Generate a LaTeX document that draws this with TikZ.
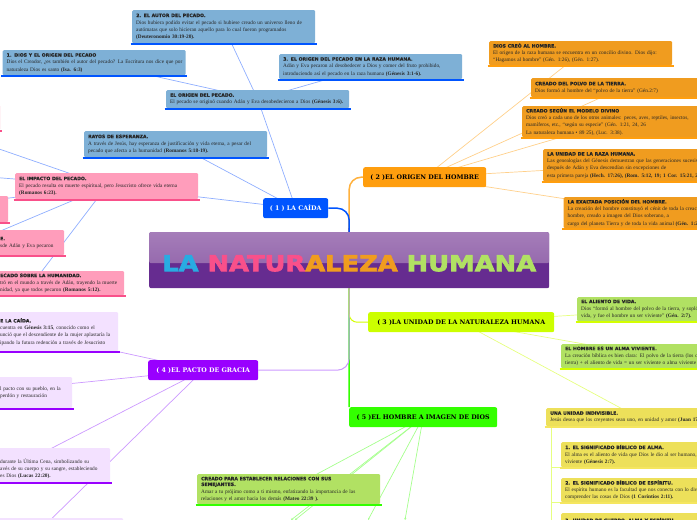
\documentclass[tikz,border=0pt]{standalone}
\usepackage{fontspec}
\usepackage{tkz-euclide}
\usetikzlibrary{backgrounds,arrows.meta}
\setmainfont{Liberation Serif}
\newfontfamily\headfont[BoldFeatures={FakeBold=0.8}]{DejaVu Sans}
\newfontfamily\ramafont{DejaVu Serif}
\newfontfamily\titlefont[BoldFeatures={FakeBold=3,FakeStretch=1.17}]{DejaVu Sans}
\definecolor{cazul}{HTML}{7EB0D6}
\definecolor{bazul}{HTML}{0055FF}
\definecolor{lazul}{HTML}{8FAEFF}
\definecolor{celeste}{HTML}{29ABE2}
\definecolor{crosa}{HTML}{FF9DBB}
\definecolor{brosa}{HTML}{F9508A}
\definecolor{cnaranja}{HTML}{F09C1F}
\definecolor{bnaranja}{HTML}{FF9E0E}
\definecolor{lnaranja}{HTML}{FFD08A}
\definecolor{clima}{HTML}{B1E163}
\definecolor{blima}{HTML}{D4FF00}
\definecolor{flima}{HTML}{CCFF00}
\definecolor{llima}{HTML}{E6FF80}
\definecolor{cverde}{HTML}{33FF00}
\definecolor{lverde}{HTML}{A5FF8C}
\definecolor{camarillo}{HTML}{EDE05A}
\definecolor{bamarillo}{HTML}{F5E65F}
\definecolor{clila}{HTML}{F3E1FF}
\definecolor{bmorado}{HTML}{9900FF}
\definecolor{lmorado}{HTML}{CC99FF}
\definecolor{oscuro}{HTML}{662C90}
\definecolor{medio}{HTML}{8A5BA5}
\definecolor{claro}{HTML}{A57DB9}
\tikzset{
    card/.style 2 args={rectangle,rounded corners=1.2pt,fill=#1,text=black!85,anchor=north west,
        text width=175pt,inner xsep=4pt,inner ysep=0pt,align=left,
        font=\fontsize{5.3}{7.2}\selectfont,
        append after command={([yshift=-1pt]\tikzlastnode.south west) edge[draw=#2,line width=2pt,rounded corners=0pt,shorten <=-1.5pt,shorten >=-1.5pt] ([yshift=-1pt]\tikzlastnode.south east)}},
    cardazul/.style={card={cazul}{bazul}},
    cardrosa/.style={card={crosa}{brosa}},
    cardnaranja/.style={card={cnaranja}{bnaranja}},
    cardlima/.style={card={clima}{blima}},
    cardverde/.style={card={clima}{cverde}},
    cardamarilla/.style={card={camarillo}{bamarillo}},
    cardlila/.style={card={clila}{bmorado}},
    rama/.style 2 args={rectangle,rounded corners=2pt,fill=#1,text=#2,anchor=north west,inner sep=0pt,align=center,
        font=\ramafont\bfseries\fontsize{6.3}{7}\selectfont},
    hilo/.style={line width=0.7pt,-{Stealth[length=2.2pt,width=2.2pt]}}
}
\newcommand{\head}[1]{{\headfont\bfseries\fontsize{4.6}{7.2}\selectfont #1}}
\begin{document}
\begin{tikzpicture}[x=1pt,y=-1pt]
                    \useasboundingbox (0,0) rectangle (697,520);
                    \tkzDefPoints{132/10/Pa,2.5/50/Pb,279/54/Pc,166/90/Pd,84/131/Pe,15/173/Pf,-175/196/Pg,-119/230/Ph,-59/271/Pi,-183/105/Pj}
                    \tkzDefPoints{-65/312/Pk,-111/377/Pl,-73/448/Pm,-60/518/Pn}
                    \tkzDefPoints{489/41/Qa,531/78/Qb,522/106/Qc,543/149/Qd,563.5/197/Qe}
                    \tkzDefPoints{577/297/Ra,561/344/Rb,546/408/Rc,561/442/Rd,561/478/Re,561/513/Rf,197/474/Rg}
                    \tkzDefPoints{-100/170/fuera,291/520/bajaa,295/520/bajab,368/520/bajac,405/520/bajad}
                    \node[cardazul,minimum height=33pt] (autor) at (Pa) {\head{2. EL AUTOR DEL PECADO.}\\Dios hubiera podido evitar el pecado si hubiese creado un universo lleno de\\autómatas que solo hicieran aquello para lo cual fueron programados\\\textbf{(Deuteronomio 30:19-20).}};
                    \node[cardazul,minimum height=25pt] (dios) at (Pb) {\head{1. DIOS Y EL ORIGEN DEL PECADO}\\\makebox[175pt][l]{Dios el Creador, ¿es también el autor del pecado? La Escritura nos dice que por}\\naturaleza Dios es santo \textbf{(Isa. 6:3)}};
                    \node[cardazul,minimum height=25pt] (raza) at (Pc) {\head{3. EL ORIGEN DEL PECADO EN LA RAZA HUMANA.}\\Adán y Eva pecaron al desobedecer a Dios y comer del fruto prohibido,\\introduciendo así el pecado en la raza humana \textbf{(Génesis 3:1-6).}};
                    \node[cardazul,minimum height=18pt] (pecado) at (Pd) {\head{EL ORIGEN DEL PECADO.}\\El pecado se originó cuando Adán y Eva desobedecieron a Dios \textbf{(Génesis 3:6).}};
                    \node[cardazul,minimum height=26pt] (rayos) at (Pe) {\head{RAYOS DE ESPERANZA.}\\A través de Jesús, hay esperanza de justificación y vida eterna, a pesar del\\pecado que afecta a la humanidad \textbf{(Romanos 5:18-19).}};
                    \node[cardrosa,minimum height=26pt] (impacto) at (Pf) {\head{EL IMPACTO DEL PECADO.}\\El pecado resulta en muerte espiritual, pero Jesucristo ofrece vida eterna\\\textbf{(Romanos 6:23).}};
                    \node[cardrosa,minimum height=26pt] (rosag) at (Pg) {};
                    \node[cardrosa,minimum height=25pt] (rosah) at (Ph) {\hspace*{115pt}\head{E.}\\\hspace*{115pt}sde Adán y Eva pecaron};
                    \node[cardrosa,minimum height=24pt] (humanidad) at (Pi) {\hspace*{55pt}\head{ECADO SOBRE LA HUMANIDAD.}\\\hspace*{55pt}tró en el mundo a través de Adán, trayendo la muerte\\\hspace*{55pt}nidad, ya que todos pecaron \textbf{(Romanos 5:12).}};
                    \node[cardrosa,minimum height=25pt] (rosaj) at (Pj) {};
                    \node[cardlila,minimum height=39pt] (caida) at (Pk) {\hspace*{61pt}\head{E LA CAÍDA.}\\\hspace*{61pt}cuentra en \textbf{Génesis 3:15}, conocido como el\\\hspace*{61pt}unció que el descendiente de la mujer aplastaría la\\\hspace*{61pt}ipando la futura redención a través de Jesucristo};
                    \node[cardlila,minimum height=31pt] (pueblo) at (Pl) {\strut\\\hspace*{107pt}l pacto con su pueblo, en la\\\hspace*{107pt}perdón y restauración\\\strut};
                    \node[cardlila,minimum height=34pt] (cena) at (Pm) {\strut\\\hspace*{69pt}durante la Última Cena, simbolizando su\\\hspace*{69pt}avés de su cuerpo y su sangre, estableciendo\\\hspace*{69pt}es Dios \textbf{(Lucas 22:20).}};
                    \node[cardlila,minimum height=40pt] (lilan) at (Pn) {};
                    \node[cardnaranja,minimum height=24pt] (creo) at (Qa) {\head{DIOS CREÓ AL HOMBRE.}\\El origen de la raza humana se encuentra en un concilio divino. Dios dijo:\\“Hagamos al hombre” (Gén. 1:26), (Gén. 1:27).};
                    \node[cardnaranja,minimum height=19pt] (polvo) at (Qb) {\head{CREADO DEL POLVO DE LA TIERRA.}\\Dios formó al hombre del “polvo de la tierra” (Gén.2:7)};
                    \node[cardnaranja,minimum height=31pt] (modelo) at (Qc) {\head{CREADO SEGÚN EL MODELO DIVINO}\\Dios creó a cada uno de los otros animales: peces, aves, reptiles, insectos,\\mamíferos, etc., “según su especie” (Gén. 1:21, 24, 26\\ La naturaleza humana • 89 25), (Luc. 3:38).};
                    \node[cardnaranja,minimum height=32pt] (linaje) at (Qd) {\head{LA UNIDAD DE LA RAZA HUMANA.}\\Las genealogías del Génesis demuestran que las generaciones sucesivas\\después de Adán y Eva descendían sin excepciones de\\esta primera pareja \textbf{(Hech. 17:26), (Rom. 5:12, 19; 1 Cor. 15:21, 22).}};
                    \node[cardnaranja,minimum height=31pt] (exaltada) at (Qe) {\head{LA EXALTADA POSICIÓN DEL HOMBRE.}\\La creación del hombre constituyó el cénit de toda la creación\\hombre, creado a imagen del Dios soberano, a\\cargo del planeta Tierra y de toda la vida animal \textbf{(Gén. 1:26).}};
                    \node[cardlima,minimum height=24pt] (aliento) at (Ra) {\head{EL ALIENTO DE VIDA.}\\Dios “formó al hombre del polvo de la tierra, y sopló\\vida, y fue el hombre un ser viviente” \textbf{(Gén. 2:7).}};
                    \node[cardlima,minimum height=24pt] (alma) at (Rb) {\head{EL HOMBRE ES UN ALMA VIVIENTE.}\\La creación bíblica es bien clara: El polvo de la tierra (los químicos de la\\tierra) + el aliento de vida = un ser viviente o alma viviente};
                    \node[cardamarilla,minimum height=18pt] (indivisible) at (Rc) {\head{UNA UNIDAD INDIVISIBLE.}\\Jesús desea que los creyentes sean uno, en unidad y amor \textbf{(Juan 17:21).}};
                    \node[cardamarilla,minimum height=25pt] (sigalma) at (Rd) {\head{1. EL SIGNIFICADO BÍBLICO DE ALMA.}\\El alma es el aliento de vida que Dios le dio al ser humano, haciéndolo un ser\\viviente \textbf{(Génesis 2:7).}};
                    \node[cardamarilla,minimum height=24pt] (sigespiritu) at (Re) {\head{2. EL SIGNIFICADO BÍBLICO DE ESPÍRITU.}\\El espíritu humano es la facultad que nos conecta con lo divino y nos permite\\comprender las cosas de Dios \textbf{(1 Corintios 2:11).}};
                    \node[cardamarilla,minimum height=30pt] (cuerpo) at (Rf) {\head{3. UNIDAD DE CUERPO, ALMA Y ESPÍRITU.}\\\strut\\\strut};
                    \node[cardverde,minimum height=30pt] (semejantes) at (Rg) {\head{CREADO PARA ESTABLECER RELACIONES CON SUS}\\[-1.5pt]\head{SEMEJANTES.}\\Amar a tu prójimo como a ti mismo, enfatizando la importancia de las\\relaciones y el amor hacia los demás \textbf{(Mateo 22:39 ).}};
                    \node[rectangle,rounded corners=2pt,anchor=north west,minimum width=400pt,minimum height=56pt,inner sep=0pt,fill=oscuro,
                        path picture={\shade[top color=claro,bottom color=medio] (path picture bounding box.north west) rectangle ([yshift=25pt]path picture bounding box.south east);}]
                        (titulo) at (149,232) {\raisebox{-11pt}[0pt][0pt]{\titlefont\bfseries\fontsize{22}{22}\selectfont\textcolor{celeste}{LA} \textcolor{brosa}{NATUR}\textcolor{cnaranja}{ALEZA} \textcolor{clima}{HUMANA}}};
                    \node[rama={bazul}{white},minimum width=65pt,minimum height=20pt] (lacaida) at (263,198) {( 1 ) LA CAÍDA};
                    \node[rama={bnaranja}{black},minimum width=123pt,minimum height=20pt] (origen) at (363,167) {( 2 )EL ORIGEN DEL HOMBRE};
                    \node[rama={flima}{black},minimum width=186pt,minimum height=20pt] (unidad) at (368,312) {( 3 )LA UNIDAD DE LA NATURALEZA HUMANA};
                    \node[rama={bmorado}{white},minimum width=110pt,minimum height=20pt] (pacto) at (148,360) {( 4 )EL PACTO DE GRACIA};
                    \node[rama={cverde}{black},minimum width=148pt,minimum height=20pt] (imagen) at (349,407) {( 5 )EL HOMBRE A IMAGEN DE DIOS};
                    \begin{pgfonlayer}{background}
                    \tkzDrawSegments[hilo,color=lazul](dios,pecado raza,pecado autor,pecado pecado,lacaida rayos,lacaida lacaida,impacto)
                    \tkzDrawSegments[hilo,color=lazul](impacto,rosag impacto,rosah impacto,humanidad impacto,rosaj impacto,fuera)
                    \tkzDrawSegments[hilo,color=lmorado](pacto,caida pacto,pueblo pacto,cena pacto,lilan)
                    \tkzDrawSegments[hilo,color=lnaranja](origen,creo origen,polvo origen,modelo origen,linaje origen,exaltada)
                    \tkzDrawSegments[hilo,color=llima](unidad,aliento unidad,alma unidad,indivisible)
                    \tkzDrawSegments[hilo,color=lverde](imagen,semejantes imagen,bajaa imagen,bajab imagen,bajac imagen,bajad)
                    \draw[llima,line width=1pt] ([xshift=5pt]indivisible.south west) |- (sigalma.south west);
                    \draw[llima,line width=1pt] ([xshift=5pt]indivisible.south west) |- (sigespiritu.south west);
                    \draw[llima,line width=1pt] ([xshift=5pt]indivisible.south west) |- (cuerpo.south west);
                    \draw[cverde,line width=1.5pt] (titulo.south) -- (imagen.north west);
                    \draw[blima,line width=1pt,rounded corners=8pt] (titulo.south) |- (unidad.west);
                    \draw[lmorado,line width=1pt,rounded corners=12pt] (titulo.south) |- (pacto.east);
                    \draw[bmorado,line width=1.5pt] (titulo.south) -- ([yshift=60pt]titulo.south);
                    \draw[bnaranja!80!white,line width=1.5pt,rounded corners=12pt] (titulo.north) |- (origen.west);
                    \draw[bazul,line width=1.5pt,rounded corners=12pt] (lacaida.east) -| (titulo.north);
                    \end{pgfonlayer}
                \end{tikzpicture}
\end{document}
